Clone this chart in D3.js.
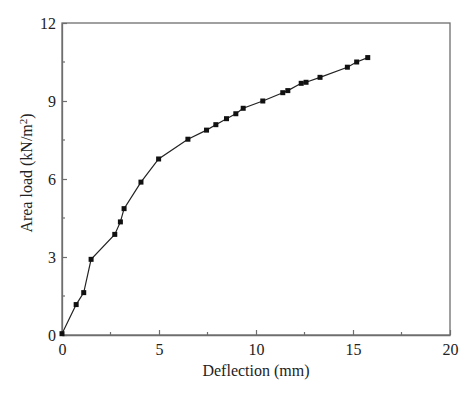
<!DOCTYPE html>
<html>
<head>
<meta charset="utf-8">
<script src="https://cdn.jsdelivr.net/npm/d3@7"></script>
<style>
    body { margin: 0; background: #fff; }
    svg { display: block; }
    svg text { font-family: 'Liberation Serif', 'DejaVu Serif', 'Times New Roman', serif !important; fill: #222; }
</style>
</head>
<body>
<div id="chart"></div>
<script>
// Data
const deflection = [0, 0.73, 1.12, 1.5, 2.72, 3.01, 3.2, 4.07, 4.98, 6.49, 7.45, 7.93, 8.48, 8.96, 9.34, 10.35, 11.38, 11.64, 12.33, 12.58, 13.3, 14.71, 15.19, 15.76]
const areaLoad = [0.05, 1.17, 1.63, 2.91, 3.87, 4.35, 4.86, 5.88, 6.77, 7.53, 7.88, 8.09, 8.32, 8.51, 8.72, 9.0, 9.32, 9.4, 9.68, 9.72, 9.91, 10.3, 10.5, 10.67]
const xTicks = [0, 5, 10, 15, 20]
const yTicks = [0, 3, 6, 9, 12]
const xMinor = [2.5, 7.5, 12.5, 17.5]
const yMinor = [1.5, 4.5, 7.5, 10.5]

const W = 474
const H = 394
const margin = { top: 23, right: 24, bottom: 59, left: 62 }
const w = W - margin.left - margin.right
const h = H - margin.top - margin.bottom
const axisColor = '#6e6e6e'
const serif = "'Liberation Serif', 'DejaVu Serif', serif"

const entries = deflection.map((x, i) => ({ x, y: areaLoad[i] }))

const svg = d3
    .select('#chart')
    .append('svg')
    .attr('width', W)
    .attr('height', H)
    .attr('font-family', serif)

const x = d3.scaleLinear().domain([0, 20]).range([0, w])
const y = d3.scaleLinear().domain([0, 12]).range([h, 0])

const plot = svg
    .append('g')
    .attr('transform', `translate(${margin.left}, ${margin.top})`)

// Frame (top and right)
plot.append('rect')
    .attr('x', 0)
    .attr('y', 0)
    .attr('width', w)
    .attr('height', h)
    .attr('fill', 'none')
    .attr('stroke', axisColor)
    .attr('stroke-width', 1.3)

// Axes with inward ticks
const xAxis = d3.axisBottom(x).tickValues(xTicks).tickSize(-5).tickPadding(9).tickSizeOuter(0)
const yAxis = d3.axisLeft(y).tickValues(yTicks).tickSize(-5).tickPadding(6).tickSizeOuter(0)

const gx = plot.append('g').attr('transform', `translate(0, ${h})`).call(xAxis)
const gy = plot.append('g').call(yAxis)

;[gx, gy].forEach((g) => {
    g.attr('font-family', serif)
    g.select('.domain').attr('stroke', axisColor).attr('stroke-width', 1.3)
    g.selectAll('.tick line').attr('stroke', axisColor).attr('stroke-width', 1.2)
    g.selectAll('.tick text').style('font-size', '16px').attr('fill', '#222')
})

// Minor ticks
plot.append('g')
    .selectAll('line')
    .data(xMinor)
    .join('line')
    .attr('x1', (d) => x(d))
    .attr('x2', (d) => x(d))
    .attr('y1', h)
    .attr('y2', h - 3)
    .attr('stroke', axisColor)
    .attr('stroke-width', 1.2)

plot.append('g')
    .selectAll('line')
    .data(yMinor)
    .join('line')
    .attr('x1', 0)
    .attr('x2', 3)
    .attr('y1', (d) => y(d))
    .attr('y2', (d) => y(d))
    .attr('stroke', axisColor)
    .attr('stroke-width', 1.2)

// Line and markers
const line = d3.line().x((d) => x(d.x)).y((d) => y(d.y))

plot.append('path')
    .datum(entries)
    .attr('d', line)
    .attr('fill', 'none')
    .attr('stroke', '#222')
    .attr('stroke-width', 1.2)

plot.append('g')
    .selectAll('rect')
    .data(entries)
    .join('rect')
    .attr('x', (d) => x(d.x) - 2.5)
    .attr('y', (d) => y(d.y) - 2.5)
    .attr('width', 5)
    .attr('height', 5)
    .attr('fill', '#111')

// Axis titles
svg.append('text')
    .attr('x', margin.left + w / 2)
    .attr('y', 376)
    .attr('text-anchor', 'middle')
    .style('font-size', '16px')
    .text('Deflection (mm)')

const yTitle = svg.append('text')
    .attr('transform', `translate(32, ${margin.top + h / 2 - 6}) rotate(-90)`)
    .attr('text-anchor', 'middle')
    .style('font-size', '16px')
yTitle.append('tspan').text('Area load (kN/m')
yTitle.append('tspan').attr('dy', -5).style('font-size', '11px').text('2')
yTitle.append('tspan').attr('dy', 5).text(')')
</script>
</body>
</html>
